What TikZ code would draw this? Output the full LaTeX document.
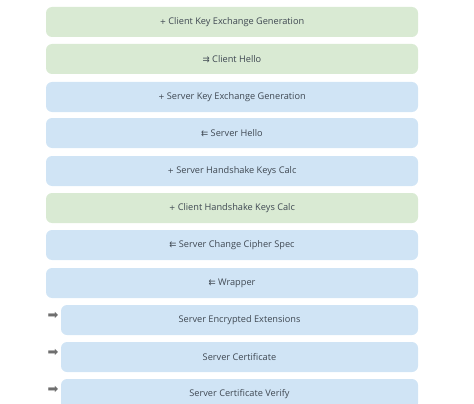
\documentclass[tikz,border=0pt]{standalone}
\usepackage{fontspec}
\setmainfont{Open Sans}
\newfontfamily\symfont{DejaVu Sans}
\definecolor{clientgreen}{HTML}{D9EAD3}
\definecolor{serverblue}{HTML}{D0E4F5}
\definecolor{steptext}{HTML}{3F4852}
\definecolor{markgray}{HTML}{6F6F6F}
\tikzset{
  msgbox/.style={rounded corners=6pt, minimum height=30pt, inner sep=0pt,
    text=steptext, font=\fontsize{9.2}{11}\selectfont},
  clientbox/.style={msgbox, fill=clientgreen, minimum width=372pt},
  serverbox/.style={msgbox, fill=serverblue, minimum width=372pt},
  subbox/.style={msgbox, fill=serverblue, minimum width=357pt},
  submark/.style={text=markgray, inner sep=0pt, font=\symfont\fontsize{13}{13}\selectfont}
}
\newcommand{\calcsym}{{\symfont\fontsize{7.5}{7.5}\selectfont +}}
\newcommand{\sendsym}{{\symfont\fontsize{8.5}{8.5}\selectfont ⇉}}
\newcommand{\recvsym}{{\symfont\fontsize{8.5}{8.5}\selectfont ⇇}}
\begin{document}
\begin{tikzpicture}[x=1pt, y=-1pt]
				\useasboundingbox (0,0) rectangle (474,404);
				\node[clientbox] (ckeygen) at (232,22) {\calcsym\ Client Key Exchange Generation};
				\node[clientbox] (chello) at (232,59) {\sendsym\ Client Hello};
				\node[serverbox] (skeygen) at (232,97) {\calcsym\ Server Key Exchange Generation};
				\node[serverbox] (shello) at (232,133) {\recvsym\ Server Hello};
				\node[serverbox] (skeys) at (232,171) {\calcsym\ Server Handshake Keys Calc};
				\node[clientbox] (ckeys) at (232,208) {\calcsym\ Client Handshake Keys Calc};
				\node[serverbox] (sccs) at (232,245) {\recvsym\ Server Change Cipher Spec};
				\node[serverbox] (wrapper) at (232,283) {\recvsym\ Wrapper};

				% records inside the wrapper
				\node[subbox] (encext) at (239.5,320) {Server Encrypted Extensions};
				\node[subbox] (cert) at (239.5,357) {Server Certificate};
				\node[subbox] (certverify) at (239.5,394) {Server Certificate Verify};

				\node[submark] (mark1) at (53,316) {➡};
				\node[submark] (mark2) at (53,353) {➡};
				\node[submark] (mark3) at (53,390) {➡};
			\end{tikzpicture}
\end{document}
